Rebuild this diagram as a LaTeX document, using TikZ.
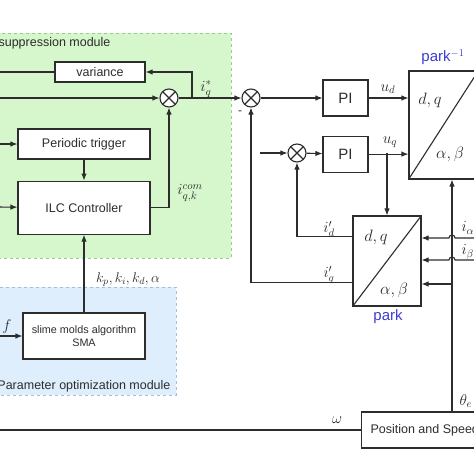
\RequirePackage{fix-cm}
\documentclass[tikz,border=0pt]{standalone}
\usepackage{amsmath}
\usepackage{fontspec}
\setmainfont{Liberation Sans}
\usepackage{tikz}
\usetikzlibrary{positioning,arrows.meta}

\definecolor{greenbg}{RGB}{214,246,204}
\definecolor{greenln}{RGB}{150,205,140}
\definecolor{bluebg}{RGB}{222,238,252}
\definecolor{blueln}{RGB}{165,190,215}
\definecolor{parkblue}{RGB}{60,60,210}
\definecolor{wire}{RGB}{45,45,45}

\begin{document}
\begin{tikzpicture}[x=1pt,y=-1pt,>={Latex[length=7pt,width=5.5pt]},line width=1.1pt,draw=wire,
 block/.style={draw=wire,rectangle,inner sep=0pt,fill=white,text=wire,font=\fontsize{12.5}{15}\selectfont},
 sum/.style={draw=wire,circle,minimum size=18pt,inner sep=0pt,fill=white,
  path picture={\draw[wire] (path picture bounding box.north west) -- (path picture bounding box.south east)
   (path picture bounding box.north east) -- (path picture bounding box.south west);}},
 lbl/.style={inner sep=0pt,text=wire,font=\fontsize{15.5}{17}\selectfont},
 inlbl/.style={inner sep=0pt,text=wire,font=\fontsize{16.5}{18}\selectfont},
 parklbl/.style={inner sep=0pt,text=parkblue,font=\fontsize{15}{17}\selectfont},
 region/.style={line width=0.8pt,dash pattern=on 3pt off 3pt}]
 \useasboundingbox (0,0) rectangle (474,474);
 \clip (0,0) rectangle (474,474);

 % modules
 \draw[region,greenln,fill=greenbg] (-5,33) rectangle (231,258);
 \draw[region,blueln,fill=bluebg] (-5,287) rectangle (176,395);
 \node[inner sep=0pt,anchor=east,text=wire,font=\fontsize{12.5}{15}\selectfont] (suppr) at (111,43) {suppression module};
 \node[inner sep=0pt,anchor=east,text=wire,font=\fontsize{12.5}{15}\selectfont] (paropt) at (171,386) {Parameter optimization module};

 % blocks
 \node[block,minimum width=90pt,minimum height=20pt] (var) at (100,72) {variance};
 \node[sum] (sum1) at (169,98) {};
 \node[block,minimum width=132pt,minimum height=30pt] (ptrig) at (84,144) {Periodic trigger};
 \node[block,minimum width=132pt,minimum height=53pt] (ilc) [below=21pt of ptrig] {ILC Controller};
 \node[block,minimum width=122pt,minimum height=46pt,align=center,font=\fontsize{10.8}{13}\selectfont] (sma) at (84,336) {slime molds algorithm\\SMA};

 \node[sum] (sum2) at (251,98) {};
 \node[sum] (sum3) at (297,153) {};
 \node[block,minimum width=45pt,minimum height=36pt,font=\fontsize{15}{17}\selectfont] (PI1) at (345.5,98) {PI};
 \node[block,minimum width=45pt,minimum height=36pt,font=\fontsize{15}{17}\selectfont] (PI2) [below=19pt of PI1] {PI};

 \node[block,minimum width=69pt,minimum height=108pt] (parkinv) at (443.5,125) {};
 \draw (parkinv.south west) -- (parkinv.north east);
 \node[inlbl] (dqA) at (430,100) {$d,q$};
 \node[inlbl] (abA) at (450,154) {$\alpha,\beta$};
 \node[parklbl] (parkinvl) at (443,57) {park$^{-1}$};

 \node[block,minimum width=68pt,minimum height=90pt] (park) at (387,261) {};
 \draw (park.south west) -- (park.north east);
 \node[inlbl] (dqB) at (376,237) {$d,q$};
 \node[inlbl] (abB) at (394,290) {$\alpha,\beta$};
 \node[parklbl] (parkl) at (388,317) {park};

 \node[block,anchor=west,minimum height=36pt,inner xsep=9pt] (pos) at (361,430) {Position and Speed};

 % free ends
 \coordinate (varout) at (-5,72);
 \coordinate (iqin) at (-5,98);
 \coordinate (jvar) at (192,98);
 \coordinate (trigin) at (-5,144);
 \coordinate (ilcin) at (-5,207);
 \coordinate (fin) at (-5,336);
 \coordinate (uqin) at (260,153);
 \coordinate (juq) at (387,153);
 \coordinate (idout) at ([yshift=-21pt]park.north west);
 \coordinate (iqout) at ([yshift=-67pt]park.north west);
 \coordinate (ialpha) at (480,238);
 \coordinate (ibeta) at (480,260);
 \coordinate (jth) at (452,284);
 \coordinate (wout) at (-5,430);

 \path[->]
 (iqin) edge (sum1)
 (sum1) edge (sum2)
 (trigin) edge (ptrig)
 (ilcin) edge (ilc)
 (ptrig) edge (ilc)
 (sma) edge (ilc)
 (fin) edge (sma)
 (sum2) edge (PI1)
 (uqin) edge (sum3)
 (sum3) edge (PI2)
 (juq) edge (park)
 ;
 \draw (var) -- (varout);
 \draw[->] (jvar) |- (var);
 \draw[->] (ilc) -| (sum1);
 \draw[->] (PI1) -- (PI1 -| parkinv.west);
 \draw[->] (PI2) -- (PI2 -| parkinv.west);
 \draw[->] (idout) -| (sum3);
 \draw[->] (iqout) -| (sum2);
 \draw[->] (ialpha) -- ([xshift=3pt]jth |- ialpha) arc[start angle=0,end angle=180,radius=3pt] -- (ialpha -| park.east);
 \draw[->] (ibeta) -- ([xshift=3pt]jth |- ibeta) arc[start angle=0,end angle=180,radius=3pt] -- (ibeta -| park.east);
 \draw[->] (jth |- pos.north) -- (jth |- parkinv.south);
 \draw[->] (jth) -- (jth -| park.east);
 \draw (pos) -- (wout);

 % labels
 \node[lbl] (iqs) at (206,89) {$i_q^{*}$};
 \node[lbl] (iqcom) at (190,193) {$i_{q,k}^{com}$};
 \node[lbl,font=\fontsize{14}{16}\selectfont] (kpar) at (128,280) {$k_p,k_i,k_d,\alpha$};
 \node[lbl] (flbl) at (7,327) {$f$};
 \node[lbl,font=\fontsize{12}{14}\selectfont] (minus) at (240,113) {-};
 \node[lbl] (udl) at (388,89) {$u_d$};
 \node[lbl] (uql) at (390,142) {$u_q$};
 \node[lbl] (idl) at (329,229) {$i_d'$};
 \node[lbl] (iql) at (329,275) {$i_q'$};
 \node[lbl,anchor=west] (ial) at (461,228) {$i_\alpha$};
 \node[lbl,anchor=west] (ibl) at (461,252) {$i_\beta$};
 \node[lbl,anchor=west] (thl) at (459,401) {$\theta_e$};
 \node[lbl] (wl) at (337,420) {$\omega$};
\end{tikzpicture}
\end{document}
